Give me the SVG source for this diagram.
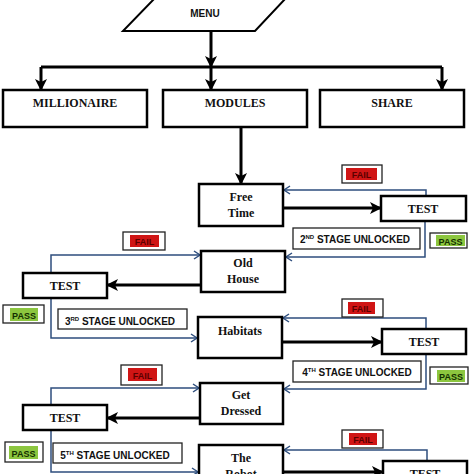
<svg xmlns="http://www.w3.org/2000/svg" width="474" height="474" viewBox="0 0 474 474">
<style>
.box{fill:#fff;stroke:#000;stroke-width:2.5}
.lbl{fill:#fff;stroke:#222;stroke-width:1.3}
.t{font-family:"Liberation Serif","Times New Roman",serif;font-weight:bold;font-size:12px;fill:#111;text-anchor:middle}
.s{font-family:"Liberation Sans",Arial,sans-serif;font-weight:bold;font-size:10px;fill:#111;text-anchor:middle}
.fail{fill:#d01515}
.failt{font-family:"Liberation Sans",Arial,sans-serif;font-weight:bold;font-size:9px;fill:#5a0000;text-anchor:middle}
.pass{fill:#8cc63f}
.passt{font-family:"Liberation Sans",Arial,sans-serif;font-weight:bold;font-size:9px;fill:#143000;text-anchor:middle}
.thick{fill:none;stroke:#000;stroke-width:3;marker-end:url(#ah)}
.thin{fill:none;stroke:#2e4e7e;stroke-width:1.5;marker-end:url(#oh)}
.plain{fill:none;stroke:#000;stroke-width:3}
</style>
<defs>
<marker id="ah" markerUnits="userSpaceOnUse" markerWidth="14" markerHeight="14" refX="11" refY="6" orient="auto">
<path d="M0,0 L12,6 L0,12 L3,6 Z" fill="#000"/>
</marker>
<marker id="oh" markerUnits="userSpaceOnUse" markerWidth="10" markerHeight="12" refX="7" refY="5" orient="auto">
<path d="M1,1 L7,5 L1,9" fill="none" stroke="#2e4e7e" stroke-width="1.5"/>
</marker>
</defs>
<rect width="474" height="474" fill="#fff"/>
<g id="connectors">
<path class="thick" d="M211,31 V67"/>
<path class="plain" d="M41,67 H442"/>
<path class="thick" d="M41,67 V90"/>
<path class="thick" d="M211,67 V90"/>
<path class="thick" d="M442,67 V90"/>
<path class="thick" d="M241,127 V184"/>
<path class="thick" d="M283,208 H381"/>
<path class="thin" d="M426,196 V190 H284"/>
<path class="thin" d="M425,221 V257 H286"/>
<path class="thick" d="M201,285 H107"/>
<path class="thin" d="M51,273 V255 H200"/>
<path class="thin" d="M51,298 V338 H197"/>
<path class="thick" d="M282,342 H382"/>
<path class="thin" d="M426,329 V318 H283"/>
<path class="thin" d="M426,354 V389 H284"/>
<path class="thick" d="M200,418 H107"/>
<path class="thin" d="M51,405 V388 H199"/>
<path class="thin" d="M51,430 V472 H198"/>
<path class="thick" d="M283,472 H383"/>
<path class="thin" d="M427,461 V450 H284"/>
</g>
<g id="menu">
<path d="M155,-2 L286,-2 L255,31 L123,31 Z" fill="#fff" stroke="#000" stroke-width="2"/>
<text class="s" x="205" y="17" font-size="11">MENU</text>
</g>
<g id="millionaire"><rect class="box" x="3" y="90" width="144" height="37"/><text class="t" x="75" y="107">MILLIONAIRE</text></g>
<g id="modules"><rect class="box" x="163" y="90" width="144" height="37"/><text class="t" x="235" y="107">MODULES</text></g>
<g id="share"><rect class="box" x="320" y="90" width="144" height="37"/><text class="t" x="392" y="107">SHARE</text></g>

<g id="freetime"><rect class="box" x="199" y="184" width="84" height="42"/><text class="t" x="241" y="201">Free</text><text class="t" x="241" y="217">Time</text></g>
<g id="test1"><rect class="box" x="381" y="196" width="85" height="25"/><text class="t" x="423" y="213">TEST</text></g>
<g id="fail1"><rect class="lbl" x="342" y="165" width="40" height="18"/><rect class="fail" x="346" y="168" width="31" height="12"/><text class="failt" x="361.5" y="178">FAIL</text></g>
<g id="stage2"><rect class="lbl" x="293" y="228" width="127" height="21"/><text class="s" x="355" y="243">2<tspan font-size="6" dy="-4">ND</tspan><tspan dy="4"> STAGE UNLOCKED</tspan></text></g>
<g id="pass1"><rect class="lbl" x="430" y="233" width="37" height="15"/><rect class="pass" x="436" y="235" width="29" height="11"/><text class="passt" x="450.5" y="244.5">PASS</text></g>

<g id="oldhouse"><rect class="box" x="201" y="251" width="84" height="41"/><text class="t" x="243" y="267">Old</text><text class="t" x="243" y="283">House</text></g>
<g id="test2"><rect class="box" x="23" y="273" width="84" height="25"/><text class="t" x="65" y="290">TEST</text></g>
<g id="fail2"><rect class="lbl" x="123" y="232" width="42" height="18"/><rect class="fail" x="130" y="235" width="29" height="12"/><text class="failt" x="144.5" y="245">FAIL</text></g>
<g id="stage3"><rect class="lbl" x="58" y="309" width="129" height="20"/><text class="s" x="120" y="325">3<tspan font-size="6" dy="-4">RD</tspan><tspan dy="4"> STAGE UNLOCKED</tspan></text></g>
<g id="pass2"><rect class="lbl" x="3" y="305" width="41" height="18"/><rect class="pass" x="10" y="308" width="28" height="13"/><text class="passt" x="24" y="318.5">PASS</text></g>

<g id="habitats"><rect class="box" x="198" y="317" width="84" height="41"/><text class="t" x="240" y="335">Habitats</text></g>
<g id="test3"><rect class="box" x="382" y="329" width="84" height="25"/><text class="t" x="424" y="346">TEST</text></g>
<g id="fail3"><rect class="lbl" x="342" y="299" width="41" height="18"/><rect class="fail" x="348" y="302" width="27" height="12"/><text class="failt" x="361.5" y="312">FAIL</text></g>
<g id="stage4"><rect class="lbl" x="293" y="361" width="128" height="21"/><text class="s" x="357" y="376">4<tspan font-size="6" dy="-4">TH</tspan><tspan dy="4"> STAGE UNLOCKED</tspan></text></g>
<g id="pass3"><rect class="lbl" x="430" y="367" width="38" height="17"/><rect class="pass" x="437" y="370" width="28" height="12"/><text class="passt" x="451" y="380">PASS</text></g>

<g id="getdressed"><rect class="box" x="200" y="383" width="83" height="41"/><text class="t" x="241" y="399">Get</text><text class="t" x="241" y="415">Dressed</text></g>
<g id="test4"><rect class="box" x="23" y="405" width="84" height="25"/><text class="t" x="65" y="422">TEST</text></g>
<g id="fail4"><rect class="lbl" x="121" y="365" width="41" height="20"/><rect class="fail" x="128" y="368" width="29" height="13"/><text class="failt" x="142.5" y="378.5">FAIL</text></g>
<g id="stage5"><rect class="lbl" x="53" y="443" width="129" height="20"/><text class="s" x="115" y="459">5<tspan font-size="6" dy="-4">TH</tspan><tspan dy="4"> STAGE UNLOCKED</tspan></text></g>
<g id="pass4"><rect class="lbl" x="5" y="442" width="38" height="20"/><rect class="pass" x="9" y="446" width="29" height="13"/><text class="passt" x="23.5" y="456.5">PASS</text></g>

<g id="robot"><rect class="box" x="199" y="445" width="84" height="45"/><text class="t" x="241" y="462">The</text><text class="t" x="241" y="478">Robot</text></g>
<g id="test5"><rect class="box" x="383" y="461" width="84" height="30"/><text class="t" x="425" y="478">TEST</text></g>
<g id="fail5"><rect class="lbl" x="342" y="430" width="41" height="18"/><rect class="fail" x="349" y="433" width="28" height="12"/><text class="failt" x="363" y="443">FAIL</text></g>
</svg>
